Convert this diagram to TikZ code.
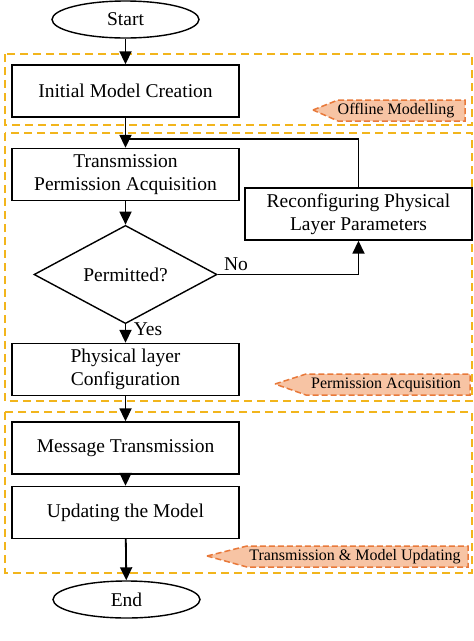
\documentclass[tikz,border=0pt]{standalone}
\usepackage{fontspec}
\setmainfont{Liberation Serif}
\usetikzlibrary{shapes.geometric,arrows.meta,calc}
\definecolor{grpcol}{HTML}{F2B51C}
\definecolor{tagfill}{HTML}{F7C4A4}
\definecolor{tagline}{HTML}{E8793A}
\tikzset{
  box/.style={draw,line width=1.4pt,minimum width=227pt,minimum height=52pt,inner sep=0pt,align=center,font=\fontsize{19.5}{23}\selectfont},
  term/.style={draw,ellipse,line width=1.4pt,minimum width=147pt,minimum height=37pt,inner sep=0pt,font=\fontsize{19.5}{23}\selectfont},
  decide/.style={draw,diamond,line width=1.4pt,minimum width=183pt,minimum height=85pt,inner sep=0pt,font=\fontsize{19.5}{23}\selectfont},
  flowline/.style={line width=1.8pt,-{Triangle[length=13pt,width=12pt]}},
  plainline/.style={line width=1.8pt},
  grpbox/.style={draw=grpcol,line width=1.8pt,dash pattern=on 8pt off 5pt},
  tagshape/.style={fill=tagfill,draw=tagline,line width=1.5pt,dash pattern=on 6pt off 3pt},
  tagtext/.style={inner sep=0pt,font=\fontsize{16}{18}\selectfont},
  lbl/.style={inner sep=0pt,font=\fontsize{19.5}{22}\selectfont}
}
\begin{document}
\begin{tikzpicture}[x=1pt,y=1pt]
\useasboundingbox (0,0) rectangle (474,-641);
% groups
\draw[grpbox] (5,-54) rectangle (472,-125);
\draw[grpbox] (5,-133) rectangle (472,-401);
\draw[grpbox] (5,-412) rectangle (472,-573);
% tags
\draw[tagshape] (313,-110) -- (338,-100) -- (465,-100) -- (465,-121) -- (338,-121) -- cycle;
\node[tagtext] (t1) at (396,-111) {Offline Modelling};
\draw[tagshape] (275,-384) -- (306,-374) -- (470,-374) -- (470,-395) -- (306,-395) -- cycle;
\node[tagtext] (t2) at (386,-385) {Permission Acquisition};
\draw[tagshape] (207,-556) -- (247,-546) -- (468,-546) -- (468,-567) -- (247,-567) -- cycle;
\node[tagtext] (t3) at (355,-557) {Transmission \& Model Updating};
% nodes
\node[term] (start) at (125.5,-19.5) {Start};
\node[box] (init) at (125.5,-91) {Initial Model Creation};
\node[box] (tpa) at (125.5,-174.5) {Transmission\\Permission Acquisition};
\node[box] (rec) at (358.5,-214) {Reconfiguring Physical\\Layer Parameters};
\node[decide] (dia) at (125.5,-274.5) {Permitted?};
\node[box] (plc) at (125.5,-369.5) {Physical layer\\Configuration};
\node[box] (mt) at (125.5,-448) {Message Transmission};
\node[box] (um) at (125.5,-512.5) {Updating the Model};
\node[term] (end) at (126.5,-599.5) {End};
\coordinate (join) at (125.5,-139);
\node[lbl] (no) at (236,-264) {No};
\node[lbl] (yes) at (148,-329) {Yes};
% connectors
\draw[flowline] (start) -- (init);
\draw[flowline] (init) -- (tpa);
\draw[plainline] (rec.north) |- (join);
\draw[flowline] (tpa) -- (dia);
\draw[flowline] (dia.east) -| (rec.south);
\draw[flowline] (dia.south) -- (plc.north);
\draw[flowline] (plc) -- (mt);
\draw[flowline] (mt) -- (um);
\draw[flowline] (um) -- (end);
\end{tikzpicture}
\end{document}
